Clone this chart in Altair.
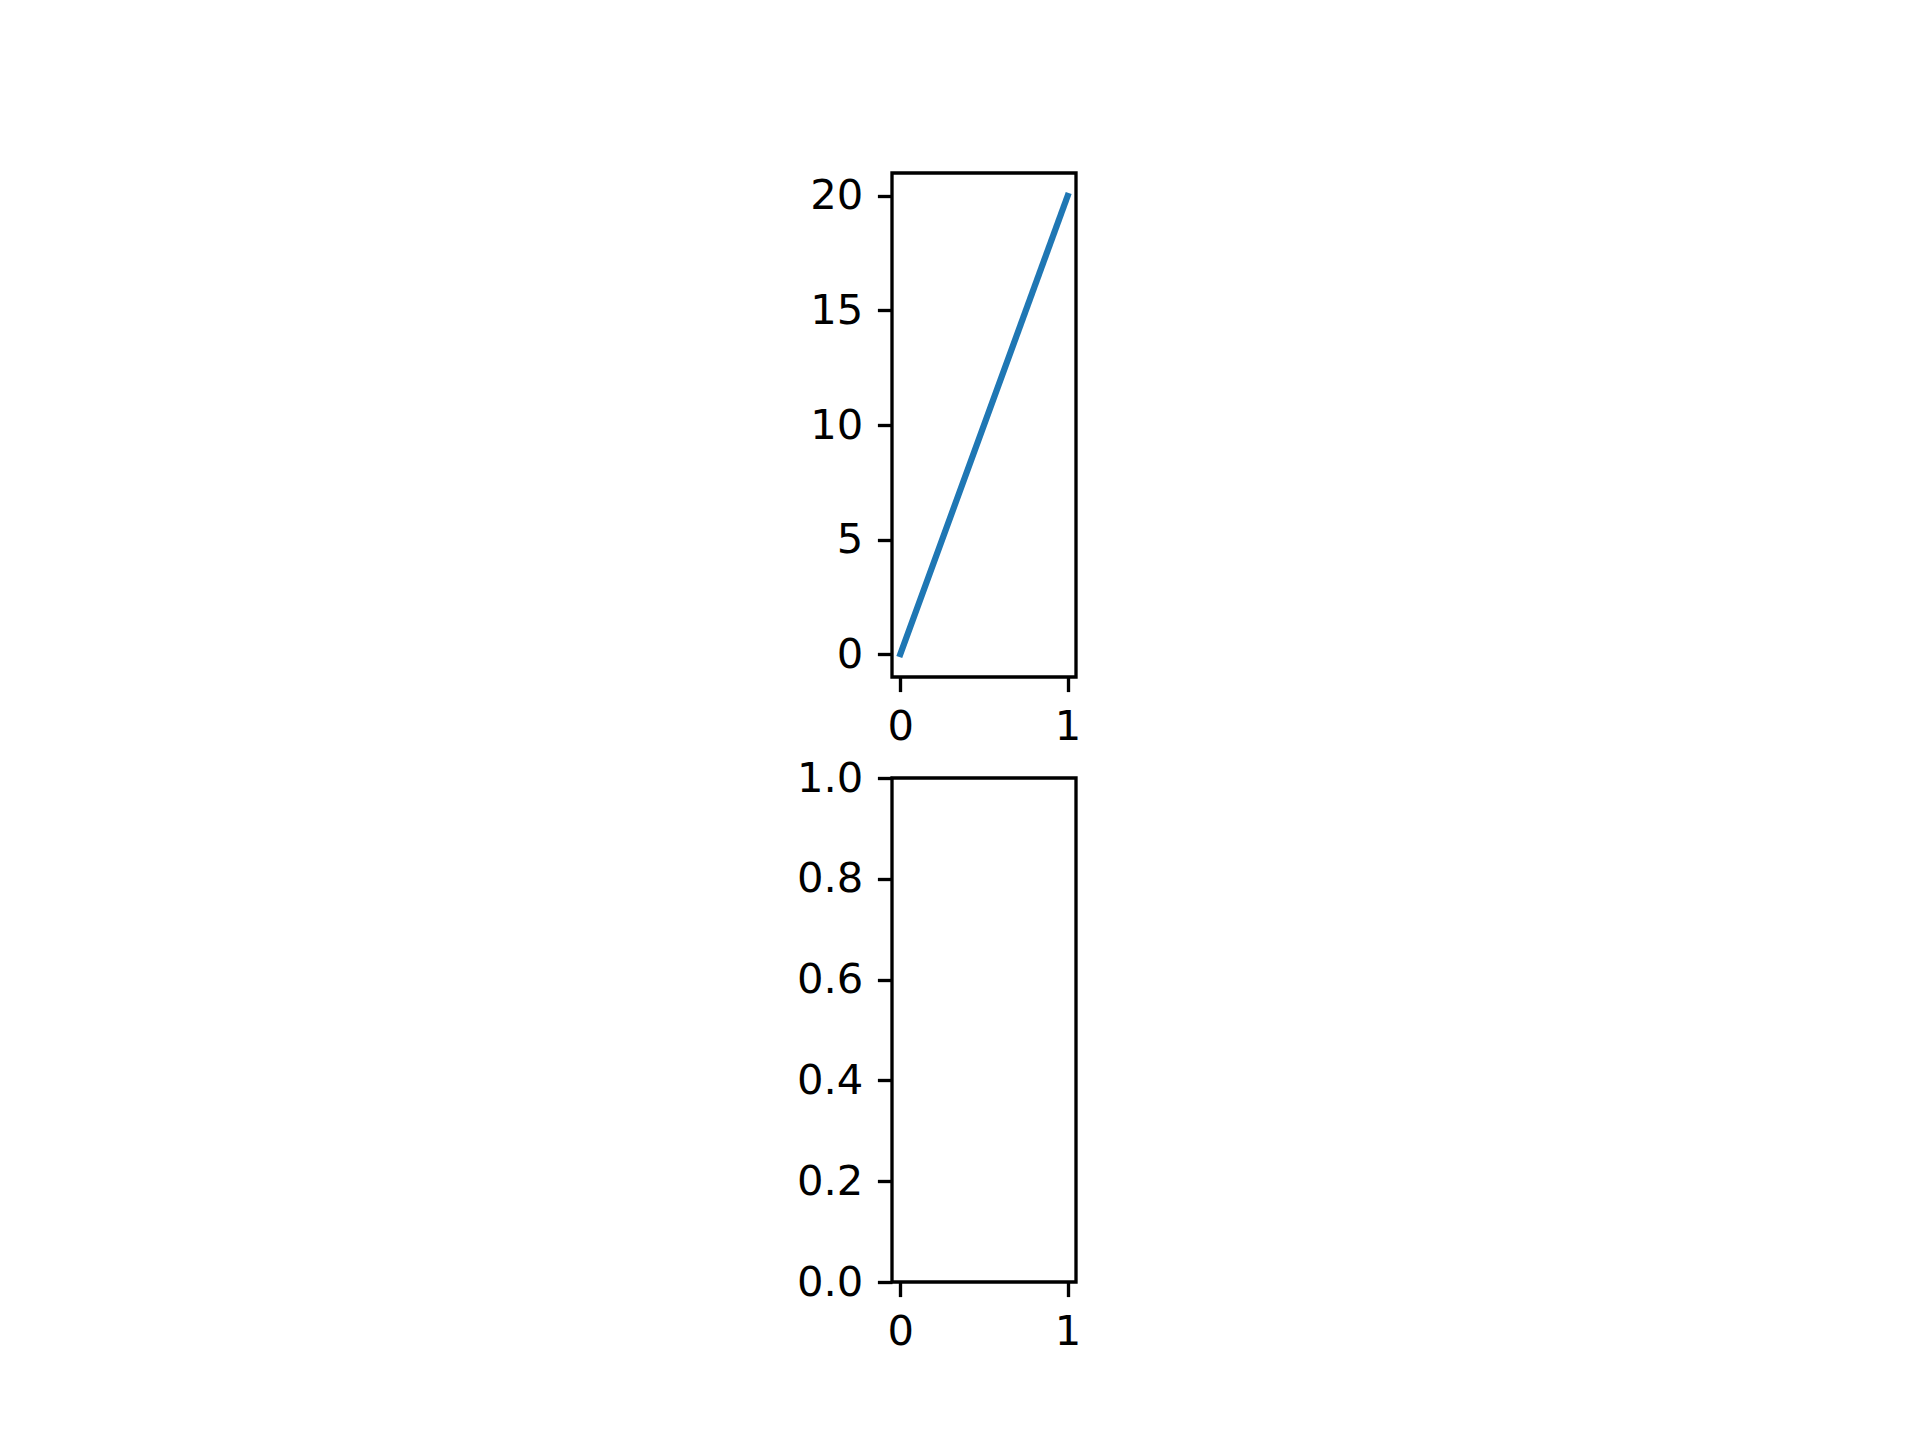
import altair as alt
import pandas as pd

# data
line_x = [0, 1]
line_y = [0, 20]
top_y_ticks = [0, 5, 10, 15, 20]
bottom_y_ticks = [0.0, 0.2, 0.4, 0.6, 0.8, 1.0]
x_ticks = [0, 1]

FONT = "DejaVu Sans"
FS = 41.7
LW = 3.33
TICK = 14.6

top_df = pd.DataFrame({"x": line_x, "y": line_y})
empty_df = pd.DataFrame({"x": pd.Series([], dtype=float), "y": pd.Series([], dtype=float)})

def xaxis():
    return alt.Axis(values=x_ticks, format="d", title=None, grid=False, domain=False,
                    ticks=True, tickSize=TICK, tickWidth=LW, tickColor="black",
                    labelPadding=TICK, labelFont=FONT, labelFontSize=FS, labelColor="black",
                    labelAngle=0, labelAlign="center", labelBaseline="top", labelFlush=False)

def yaxis(vals, fmt):
    return alt.Axis(values=vals, format=fmt, title=None, grid=False, domain=False,
                    ticks=True, tickSize=TICK, tickWidth=LW, tickColor="black",
                    labelPadding=TICK, labelFont=FONT, labelFontSize=FS, labelColor="black",
                    labelAlign="right", labelBaseline="middle", labelFlush=False)

top = alt.Chart(top_df).mark_line(color="#1f77b4", strokeWidth=6.25, strokeCap="square").encode(
    x=alt.X("x:Q", scale=alt.Scale(domain=[-0.05, 1.05], nice=False, zero=False), axis=xaxis()),
    y=alt.Y("y:Q", scale=alt.Scale(domain=[-1, 21], nice=False, zero=False), axis=yaxis(top_y_ticks, "d")),
).properties(width=184, height=504)

bottom = alt.Chart(empty_df).mark_point(opacity=0).encode(
    x=alt.X("x:Q", scale=alt.Scale(domain=[-0.05, 1.05], nice=False, zero=False), axis=xaxis()),
    y=alt.Y("y:Q", scale=alt.Scale(domain=[0, 1], nice=False, zero=False), axis=yaxis(bottom_y_ticks, ".1f")),
).properties(width=184, height=504)

chart = alt.vconcat(top, bottom, spacing=101, bounds="flush").properties(
    padding={"left": 786, "top": 163, "right": 20, "bottom": 20},
    background="white",
).configure_view(stroke="black", strokeWidth=LW)

chart.save("out.html", embed_options={"renderer": "svg", "actions": False})
